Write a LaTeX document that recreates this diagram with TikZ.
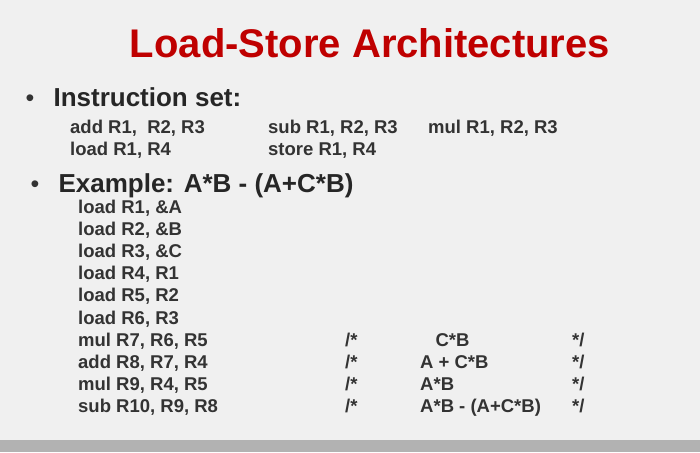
\documentclass[tikz,border=0pt]{standalone}
\usepackage{fontspec}
\setmainfont{Liberation Sans}
\begin{document}
\begin{tikzpicture}[x=1pt,y=-1pt,
  title/.style={anchor=base,font=\fontsize{40}{42}\selectfont\bfseries,text=red!75!black},
  head/.style={anchor=base west,font=\fontsize{26}{28}\selectfont\bfseries,text=black!85},
  bul/.style={anchor=base west,font=\fontsize{25}{28}\selectfont,text=black!80},
  code/.style={anchor=base west,font=\fontsize{18.5}{20}\selectfont\bfseries,text=black!80,inner sep=0pt}]
\fill[black!6] (0,0) rectangle (700,452);
\fill[black!30] (0,440) rectangle (700,452);
\node[title] (t) at (370,57) {Load-Store Architectures};
\node[bul] (b1) at (22,106) {•};
\node[head] (h1) at (50,106) {Instruction set:};
\node[code] (i1) at (70,133) {add R1,\ \ R2, R3};
\node[code] (i2) at (268,133) {sub R1, R2, R3};
\node[code] (i3) at (428,133) {mul R1, R2, R3};
\node[code] (i4) at (70,155) {load R1, R4};
\node[code] (i5) at (268,155) {store R1, R4};
\node[bul] (b2) at (27,192) {•};
\node[head] (h2) at (55,192) {Example: A*B - (A+C*B)};
\foreach \t [count=\i] in {{load R1, \&A},{load R2, \&B},{load R3, \&C},{load R4, R1},{load R5, R2},{load R6, R3},{mul R7, R6, R5},{add R8, R7, R4},{mul R9, R4, R5},{sub R10, R9, R8}}
  \node[code] (c\i) at (78,{213+(\i-1)*22.2}) {\t};
\foreach \t [count=\i from 7] in {{\ \ \ C*B},{A + C*B},{A*B},{A*B - (A+C*B)}}{
  \node[code] (o\i) at (345,{213+(\i-1)*22.2}) {/*};
  \node[code] (m\i) at (420,{213+(\i-1)*22.2}) {\t};
  \node[code] (e\i) at (572,{213+(\i-1)*22.2}) {*/};
}
\end{tikzpicture}
\end{document}
